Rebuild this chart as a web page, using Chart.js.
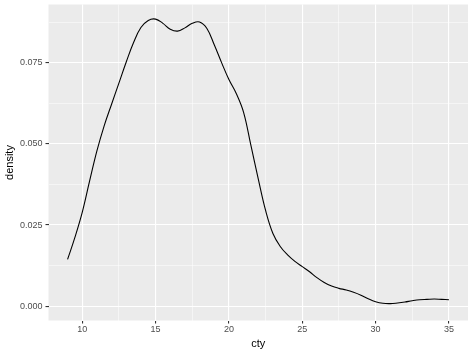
<!DOCTYPE html>
<html>
<head>
<meta charset="utf-8">
<script src="https://cdn.jsdelivr.net/npm/chart.js@4"></script>
<style>
  html, body { margin: 0; padding: 0; background: #fff; }
  #wrap { width: 474px; height: 355px; }
</style>
</head>
<body>
<div id="wrap"><canvas id="chartDensity"></canvas></div>
<script>
// cty values and estimated density
const cty = [9, 9.5, 10, 10.5, 11, 11.5, 12, 12.5, 13, 13.5, 14, 14.5, 15, 15.5, 16, 16.5, 17, 17.5, 18, 18.5,
  19, 19.5, 20, 20.5, 21, 21.5, 22, 22.5, 23, 23.5, 24, 24.5, 25, 25.5, 26, 26.5, 27, 27.5, 28, 28.5,
  29, 29.5, 30, 30.5, 31, 31.5, 32, 32.5, 33, 33.5, 34, 34.5, 35];
const density = [0.0144, 0.0212, 0.0289, 0.0385, 0.0478, 0.0556, 0.0622, 0.0687, 0.0752, 0.0812, 0.0858, 0.0880,
  0.0884, 0.0871, 0.0853, 0.0847, 0.0857, 0.0871, 0.0875, 0.0855, 0.0805, 0.0750, 0.0698, 0.0655, 0.0597,
  0.0495, 0.0392, 0.0295, 0.0224, 0.0184, 0.0158, 0.0138, 0.0122, 0.0106, 0.0088, 0.0073, 0.0062, 0.0055,
  0.0050, 0.0043, 0.0034, 0.0023, 0.0014, 0.0009, 0.0008, 0.0010, 0.0013, 0.0017, 0.0020, 0.0021, 0.0022,
  0.0021, 0.0020];

const xTicks = [10, 15, 20, 25, 30, 35];
const xMinor = [12.5, 17.5, 22.5, 27.5, 32.5];
const yTicks = [0, 0.025, 0.05, 0.075];
const yMinor = [0.0125, 0.0375, 0.0625, 0.0875];

const panelBg = {
  id: 'panelBg',
  beforeDraw(chart) {
    const { ctx, chartArea: a } = chart;
    ctx.save();
    ctx.fillStyle = '#EBEBEB';
    ctx.fillRect(a.left, a.top, a.right - a.left, a.bottom - a.top);
    ctx.restore();
  }
};

function setTicks(major, minor) {
  return function (scale) {
    scale.ticks = major.concat(minor).sort((a, b) => a - b).map(v => ({ value: v, major: major.includes(v) }));
  };
}

const data = {
  datasets: [{
    label: 'density',
    data: cty.map((x, i) => ({ x: x, y: density[i] })),
    borderColor: '#000000',
    borderWidth: 1.1,
    pointRadius: 0,
    fill: false,
    tension: 0.4
  }]
};

const config = {
  type: 'line',
  data: data,
  plugins: [panelBg],
  options: {
    responsive: false,
    animation: false,
    layout: { padding: { top: 4.5, right: 6, left: 0, bottom: 0 } },
    plugins: {
      legend: { display: false },
      tooltip: { enabled: false }
    },
    scales: {
      x: {
        type: 'linear',
        min: 7.7,
        max: 36.3,
        afterBuildTicks: setTicks(xTicks, xMinor),
        afterFit(scale) {
          scale.height = 34.5;
          scale.paddingLeft = 0;
          scale.paddingRight = 0;
        },
        border: { display: false },
        grid: {
          color: '#FFFFFF',
          lineWidth: ctx => ctx.tick && ctx.tick.major ? 1.1 : 0.5,
          tickColor: ctx => ctx.tick && ctx.tick.major ? '#333333' : 'rgba(0,0,0,0)',
          tickLength: 3
        },
        ticks: {
          autoSkip: false,
          maxRotation: 0,
          padding: 1,
          color: '#4D4D4D',
          font: { family: 'Liberation Sans', size: 9 },
          callback: v => xTicks.includes(v) ? String(v) : ''
        },
        title: {
          display: true,
          text: 'cty',
          color: '#000000',
          font: { family: 'Liberation Sans', size: 11 },
          padding: { top: 0, bottom: 4 }
        }
      },
      y: {
        min: -0.0044,
        max: 0.0929,
        afterBuildTicks: setTicks(yTicks, yMinor),
        afterFit(scale) {
          scale.width = 48.5;
          scale.paddingTop = 0;
          scale.paddingBottom = 0;
        },
        border: { display: false },
        grid: {
          color: '#FFFFFF',
          lineWidth: ctx => ctx.tick && ctx.tick.major ? 1.1 : 0.5,
          tickColor: ctx => ctx.tick && ctx.tick.major ? '#333333' : 'rgba(0,0,0,0)',
          tickLength: 3
        },
        ticks: {
          autoSkip: false,
          padding: 3,
          color: '#4D4D4D',
          font: { family: 'Liberation Sans', size: 9 },
          callback: v => yTicks.includes(v) ? v.toFixed(3) : ''
        },
        title: {
          display: true,
          text: 'density',
          color: '#000000',
          font: { family: 'Liberation Sans', size: 11 },
          padding: { top: 3, bottom: 0 }
        }
      }
    }
  }
};

const canvas = document.getElementById('chartDensity');
canvas.width = 474;
canvas.height = 355;
const chartDensity = new Chart(canvas, config);
</script>
</body>
</html>
